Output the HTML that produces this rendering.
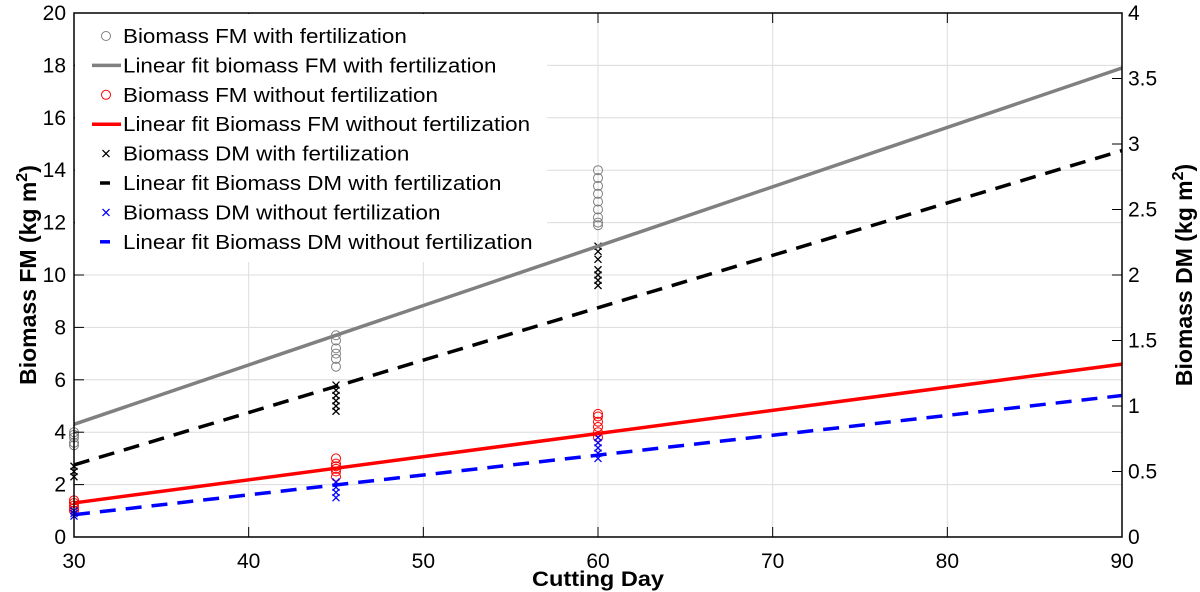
<!DOCTYPE html>
<html><head><meta charset="utf-8"><style>
body{margin:0;background:#fff}
svg{display:block;font-family:"Liberation Sans",Arial,sans-serif}
</style></head><body>
<svg id="chart" width="1200" height="592" viewBox="0 0 1200 592">
<g id="grid"></g>
<g id="marks"></g>
<g id="axes"></g>
<g id="legend"></g>
</svg>
<script>
const xTicks=[30,40,50,60,70,80,90];
const yTicksL=[0,2,4,6,8,10,12,14,16,18,20];
const yTicksR=[0,0.5,1,1.5,2,2.5,3,3.5,4];
const fmFertX=[30,30,30,30,30,45,45,45,45,45,45,60,60,60,60,60,60,60,60,60];
const fmFertY=[3.5,3.6,3.8,3.9,4.0,6.5,6.8,7.0,7.2,7.5,7.7,11.9,12.0,12.2,12.5,12.8,13.1,13.4,13.7,14.0];
const fmNoX=[30,30,30,30,30,45,45,45,45,45,45,60,60,60,60,60,60];
const fmNoY=[1.0,1.1,1.2,1.3,1.4,2.3,2.5,2.6,2.7,2.8,3.0,3.8,4.0,4.2,4.4,4.6,4.7];
const dmFertX=[30,30,30,45,45,45,45,45,45,60,60,60,60,60,60,60];
const dmFertY=[0.46,0.5,0.54,0.96,1.0,1.04,1.08,1.12,1.16,1.92,1.96,2.0,2.04,2.12,2.18,2.22];
const dmNoX=[30,30,30,45,45,45,45,60,60,60,60,60];
const dmNoY=[0.16,0.18,0.2,0.3,0.34,0.38,0.42,0.6,0.64,0.68,0.72,0.76];
const fitFmFert=[4.3,17.9];
const fitFmNo=[1.3,6.6];
const fitDmFert=[0.55,2.95];
const fitDmNo=[0.17,1.08];
const fitX=[30,90];

const NS='http://www.w3.org/2000/svg';
const X0=74,X1=1122,Y0=537,Y1=13;
const sx=v=>X0+(v-30)/60*(X1-X0);
const syL=v=>Y0-v/20*(Y0-Y1);
const syR=v=>Y0-v/4*(Y0-Y1);
function mk(t,a,p){const e=document.createElementNS(NS,t);for(const k in a)e.setAttribute(k,a[k]);p.appendChild(e);return e;}
function stretch(t,f){const w=t.getComputedTextLength();t.setAttribute('textLength',w*f);t.setAttribute('lengthAdjust','spacingAndGlyphs');}
const grid=document.getElementById('grid'),marks=document.getElementById('marks'),axes=document.getElementById('axes'),leg=document.getElementById('legend');
xTicks.forEach(v=>{const l=mk('line',{x1:sx(v),x2:sx(v),y1:Y0,y2:Y1,stroke:'#dcdcdc','stroke-width':1},grid);

});
yTicksL.forEach(v=>{const l=mk('line',{x1:X0,x2:X1,y1:syL(v),y2:syL(v),stroke:'#dcdcdc','stroke-width':1},grid);

});
function fit(ys,sy,col,dash,name){const l=mk('line',{x1:sx(fitX[0]),y1:sy(ys[0]),x2:sx(fitX[1]),y2:sy(ys[1]),stroke:col,'stroke-width':3.5},marks);
if(dash)l.setAttribute('stroke-dasharray',dash);

}
function circles(xs,ys,col,name){xs.forEach((x,i)=>{const c=mk('circle',{cx:sx(x),cy:syL(ys[i]),r:4.5,fill:'none',stroke:col,'stroke-width':1},marks);

});}
function crosses(xs,ys,col,name){xs.forEach((x,i)=>{const cx=sx(x),cy=syR(ys[i]);const p=mk('path',{d:`M${cx-3.5},${cy-3.5}L${cx+3.5},${cy+3.5}M${cx-3.5},${cy+3.5}L${cx+3.5},${cy-3.5}`,stroke:col,'stroke-width':1.3},marks);

});}
circles(fmFertX,fmFertY,'#808080','fm-fert-point');
circles(fmNoX,fmNoY,'#ff0000','fm-nofert-point');
crosses(dmFertX,dmFertY,'#000','dm-fert-point');
crosses(dmNoX,dmNoY,'#0000ff','dm-nofert-point');
fit(fitFmFert,syL,'#808080',null,'fit-fm-fert');
fit(fitFmNo,syL,'#ff0000',null,'fit-fm-nofert');
fit(fitDmFert,syR,'#000',"16,10",'fit-dm-fert');
fit(fitDmNo,syR,'#0000ff',"16,10",'fit-dm-nofert');
const box=mk('rect',{x:X0,y:Y1,width:X1-X0,height:Y0-Y1,fill:'none',stroke:'#000','stroke-width':1.5},axes);


xTicks.forEach(v=>{mk('line',{x1:sx(v),x2:sx(v),y1:Y0,y2:Y0-10,stroke:'#000'},axes);mk('line',{x1:sx(v),x2:sx(v),y1:Y1,y2:Y1+10,stroke:'#000'},axes);
const t=mk('text',{x:sx(v),y:Y0+31,'font-size':21,'text-anchor':'middle'},axes);t.textContent=v;

});
yTicksL.forEach(v=>{mk('line',{x1:X0,x2:X0+10,y1:syL(v),y2:syL(v),stroke:'#000'},axes);
const t=mk('text',{x:X0-8,y:syL(v)+7,'font-size':21,'text-anchor':'end'},axes);t.textContent=v;

});
yTicksR.forEach(v=>{mk('line',{x1:X1,x2:X1-10,y1:syR(v),y2:syR(v),stroke:'#000'},axes);
const t=mk('text',{x:X1+6,y:syR(v)+7,'font-size':21,'text-anchor':'start'},axes);t.textContent=v;

});
const lb=mk('rect',{x:X0+1,y:Y1+1,width:472,height:248,fill:'#fff'},leg);


const labels=['Biomass FM with fertilization','Linear fit biomass FM with fertilization','Biomass FM without fertilization','Linear fit Biomass FM  without fertilization','Biomass DM with fertilization','Linear fit Biomass DM with fertilization','Biomass DM without fertilization','Linear fit Biomass DM without fertilization'];
const kinds=[['o','#808080'],['l','#808080'],['o','#ff0000'],['l','#ff0000'],['x','#000'],['d','#000'],['x','#0000ff'],['d','#0000ff']];
labels.forEach((s,i)=>{const y=36+i*29.4;const k=kinds[i];
if(k[0]==='o')mk('circle',{cx:106,cy:y,r:4.5,fill:'none',stroke:k[1]},leg);
if(k[0]==='x')mk('path',{d:`M102.5,${y-3.5}L109.5,${y+3.5}M102.5,${y+3.5}L109.5,${y-3.5}`,stroke:k[1],'stroke-width':1.3},leg);
if(k[0]==='l')mk('line',{x1:92,x2:121,y1:y,y2:y,stroke:k[1],'stroke-width':3.5},leg);
if(k[0]==='d')mk('line',{x1:100,x2:110,y1:y,y2:y,stroke:k[1],'stroke-width':3.5},leg);
const t=mk('text',{x:123,y:y+7,'font-size':20},leg);t.setAttribute('xml:space','preserve');t.textContent=s;


stretch(t,1.12);});
const xt=mk('text',{x:598,y:586,'font-size':21,'font-weight':'bold','text-anchor':'middle'},axes);xt.textContent='Cutting Day';


stretch(xt,1.12);
const yl=mk('text',{transform:'translate(36,275) rotate(-90)','font-size':23,'font-weight':'bold','text-anchor':'middle'},axes);
yl.innerHTML='Biomass FM (kg m<tspan font-size="16" dy="-9">2</tspan><tspan dy="9">)</tspan>';


const yr=mk('text',{transform:'translate(1192,275) rotate(-90)','font-size':23,'font-weight':'bold','text-anchor':'middle'},axes);
yr.innerHTML='Biomass DM (kg m<tspan font-size="16" dy="-9">2</tspan><tspan dy="9">)</tspan>';


</script>
</body></html>
